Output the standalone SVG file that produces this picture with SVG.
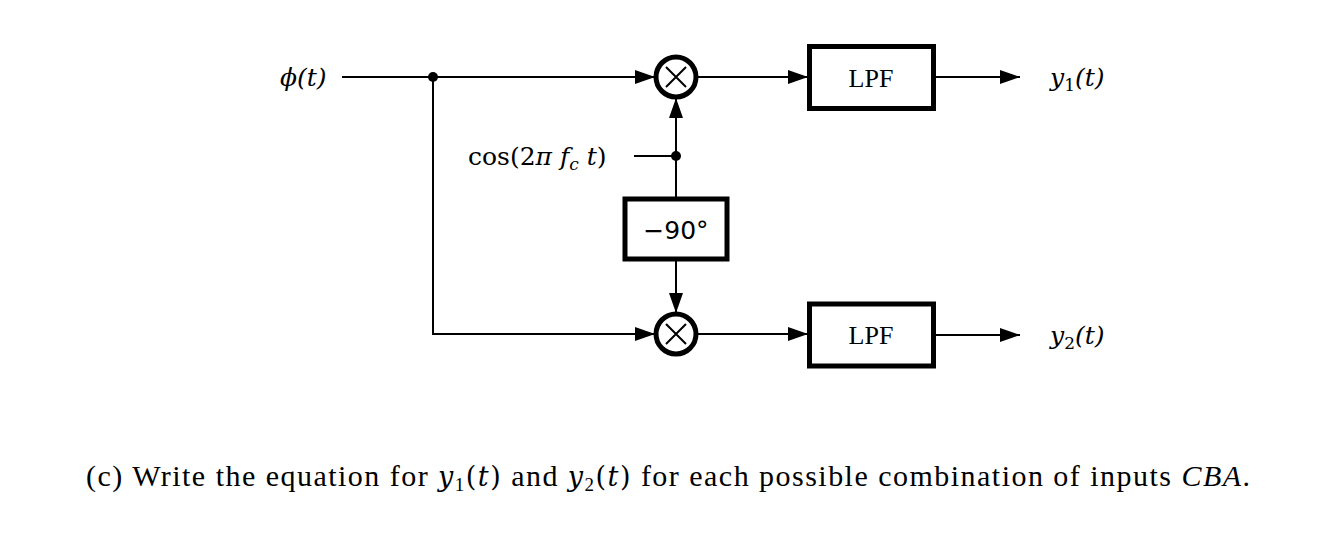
<svg xmlns="http://www.w3.org/2000/svg" width="1320" height="546" viewBox="0 0 1320 546">
<style>
.w{stroke:#000;stroke-width:2;fill:none}
.b{stroke:#000;stroke-width:5;fill:#fff}
.m{font-family:"DejaVu Serif",serif;font-size:25px;font-style:italic}
.r{font-family:"Liberation Serif",serif;font-size:26px}
.q{font-family:"Liberation Serif",serif;font-size:30px}
</style>
<defs>
<marker id="a2" viewBox="0 0 10 10" refX="10" refY="5" markerWidth="20" markerHeight="14" markerUnits="userSpaceOnUse" orient="auto" preserveAspectRatio="none"><path d="M0,0L10,5L0,10z"/></marker></defs>
<g id="connectors">
<path class="w" d="M342,77H655" marker-end="url(#a2)"/>
<path class="w" d="M433,77V334H655" marker-end="url(#a2)"/>
<path class="w" d="M634,156H676"/>
<path class="w" d="M676,197V98" marker-end="url(#a2)"/>
<path class="w" d="M676,260V313" marker-end="url(#a2)"/>
<path class="w" d="M697,77H808" marker-end="url(#a2)"/>
<path class="w" d="M697,334H808" marker-end="url(#a2)"/>
<path class="w" d="M936,77H1020" marker-end="url(#a2)"/>
<path class="w" d="M936,335H1020" marker-end="url(#a2)"/>
<circle cx="433" cy="77" r="5"/>
<circle cx="676" cy="156" r="5"/>
</g>
<g id="in"><text class="m" x="280" y="86">ϕ(t)</text></g>
<g id="cos"><text x="468" y="165" font-family="DejaVu Serif,serif" font-size="25">cos(2<tspan font-style="italic">π f</tspan><tspan font-style="italic" font-size="17" dy="5">c</tspan><tspan font-style="italic" dy="-5"> t</tspan>)</text></g>
<g id="mult1"><circle cx="676" cy="77" r="20" class="b"/><path class="w" d="M666,67L686,87M686,67L666,87"/></g>
<g id="mult2"><circle cx="676" cy="334" r="20" class="b"/><path class="w" d="M666,324L686,344M686,324L666,344"/></g>
<g id="phase"><rect class="b" x="625" y="199" width="102" height="60"/><text x="676" y="239" text-anchor="middle" font-family="DejaVu Sans,sans-serif" font-size="25">−90°</text></g>
<g id="lpf1"><rect class="b" x="809.5" y="46.5" width="124" height="62"/><text class="r" x="871" y="87" text-anchor="middle">LPF</text></g>
<g id="lpf2"><rect class="b" x="809.5" y="304" width="124" height="62"/><text class="r" x="871" y="344" text-anchor="middle">LPF</text></g>
<g id="y1"><text class="m" x="1050" y="86">y<tspan font-size="17" font-style="normal" dy="5">1</tspan><tspan dy="-5">(t)</tspan></text></g>
<g id="y2"><text class="m" x="1050" y="344">y<tspan font-size="17" font-style="normal" dy="5">2</tspan><tspan dy="-5">(t)</tspan></text></g>
<text class="q" x="86" y="486" textLength="1164" lengthAdjust="spacing">(c)  Write the equation for <tspan font-family="DejaVu Serif,serif" font-style="italic" font-size="27">y</tspan><tspan font-size="19" dy="5">1</tspan><tspan dy="-5" font-family="DejaVu Serif,serif" font-size="27">(<tspan font-style="italic">t</tspan>)</tspan> and <tspan font-family="DejaVu Serif,serif" font-style="italic" font-size="27">y</tspan><tspan font-size="19" dy="5">2</tspan><tspan dy="-5" font-family="DejaVu Serif,serif" font-size="27">(<tspan font-style="italic">t</tspan>)</tspan> for each possible combination of inputs <tspan font-style="italic">CBA</tspan>.</text>
</svg>
